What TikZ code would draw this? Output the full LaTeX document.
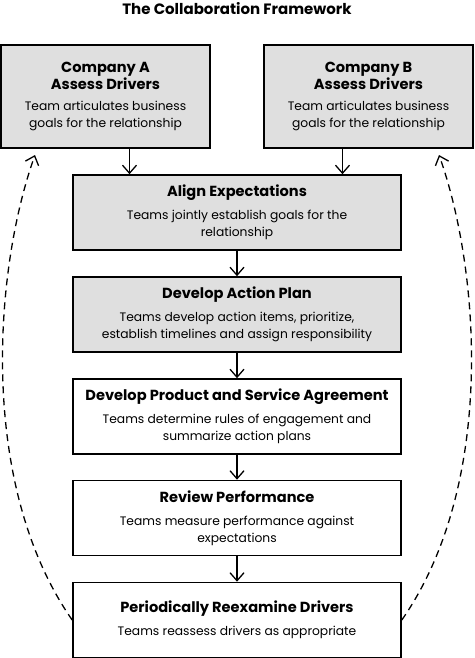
\documentclass[tikz,border=0pt]{standalone}
\usepackage{fontspec}
\setmainfont{Poppins}
\usetikzlibrary{arrows.meta}
\newcommand\headfont{\fontsize{14.6}{17}\selectfont\bfseries}

\begin{document}
\begin{tikzpicture}[x=1pt,y=-1pt,
    stage/.style={draw,line width=1.6pt,minimum width=328pt,minimum height=75pt,
      align=center,inner sep=0pt,font=\fontsize{12.3}{17}\selectfont},
    shaded/.style={stage,fill=gray!25},
    flow/.style={line width=1.3pt,-{Straight Barb[length=8pt,width=14pt]}},
    feedback/.style={flow,dash pattern=on 7pt off 5pt}]
    \useasboundingbox (0,0) rectangle (474,658);

    \node[font=\bfseries\fontsize{15}{17}\selectfont] (title) at (237,9) {The Collaboration Framework};

    % the two companies
    \node[shaded,minimum width=209pt,minimum height=103pt] (compA) at (105.5,96.5)
      {\headfont Company A\\\headfont Assess Drivers\\[4pt]Team articulates business\\goals for the relationship};
    \node[shaded,minimum width=209pt,minimum height=103pt] (compB) at (368.5,96.5)
      {\headfont Company B\\\headfont Assess Drivers\\[4pt]Team articulates business\\goals for the relationship};

    % joint steps
    \node[shaded] (align) at (237,212.5)
      {\headfont Align Expectations\\[6pt]Teams jointly establish goals for the\\relationship};
    \node[shaded] (plan) at (237,314.5)
      {\headfont Develop Action Plan\\[6pt]Teams develop action items, prioritize,\\establish timelines and assign responsibility};
    \node[stage] (agree) at (237,416.5)
      {\headfont Develop Product and Service Agreement\\[6pt]Teams determine rules of engagement and\\summarize action plans};
    \node[stage] (review) at (237,518)
      {\headfont Review Performance\\[6pt]Teams measure performance against\\expectations};
    \node[stage] (reex) at (237,620)
      {\headfont Periodically Reexamine Drivers\\[6pt]Teams reassess drivers as appropriate};

    \draw[flow] ([xshift=24pt]compA.south) -- ([xshift=24pt]compA.south |- align.north);
    \draw[flow] ([xshift=-26pt]compB.south) -- ([xshift=-26pt]compB.south |- align.north);
    \draw[flow] (align) -- (plan);
    \draw[flow] (plan) -- (agree);
    \draw[flow] (agree) -- (review);
    \draw[flow] (review) -- (reex);

    % back to the start
    \coordinate (tipA) at (35,155);
    \coordinate (tipB) at (439,155);
    \draw[feedback] (reex.west) .. controls (-22,485) and (-6,270) .. (tipA);
    \draw[feedback] (reex.east) .. controls (496,485) and (480,270) .. (tipB);
\end{tikzpicture}
\end{document}
